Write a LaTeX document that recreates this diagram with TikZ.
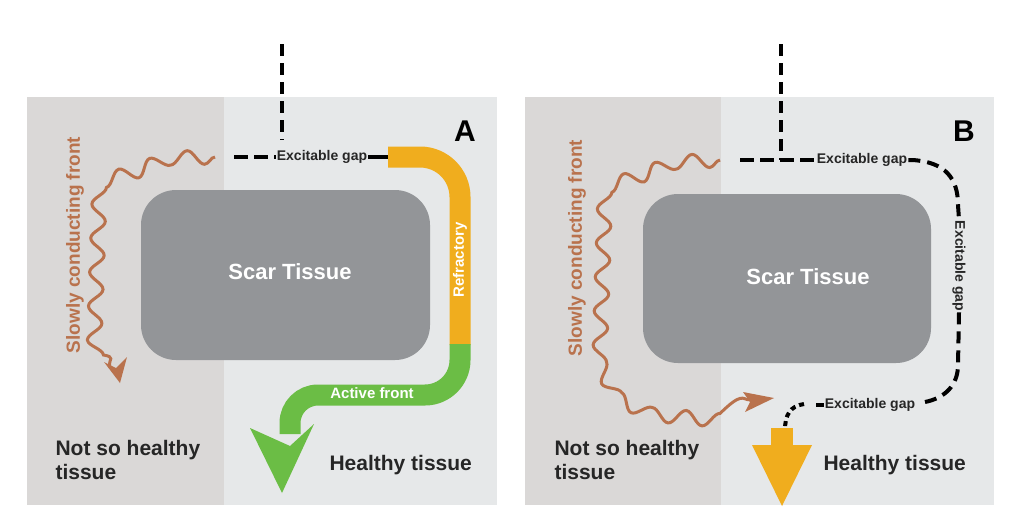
\documentclass[tikz,border=0pt]{standalone}
\usepackage{fontspec}
\setmainfont{Liberation Sans}
\usetikzlibrary{decorations.pathmorphing,arrows.meta}
\definecolor{bgdark}{HTML}{DAD8D7}
\definecolor{bglight}{HTML}{E6E8E9}
\definecolor{scar}{HTML}{939598}
\definecolor{brn}{HTML}{B9724D}
\definecolor{org}{HTML}{F0AD1E}
\definecolor{grn}{HTML}{6BBD45}
\begin{document}
\begin{tikzpicture}[x=1pt,y=-1pt,
  lbl/.style={font=\bfseries\fontsize{21}{24}\selectfont, text=black!85, align=left},
  gap/.style={font=\bfseries\fontsize{14}{16}\selectfont, text=black!85, inner sep=1pt},
  dsh/.style={line width=4pt, dash pattern=on 12pt off 7pt},
  wav/.style={brn, line width=3pt, decorate, decoration={snake, amplitude=7pt, segment length=34pt}},
  scarbox/.style={fill=scar, rounded corners=35pt},
  band/.style={line width=21pt}]
\useasboundingbox (0,0) rectangle (1024,531);
% ---------- Panel A
\fill[bglight] (27,97) rectangle (497,505);
\fill[bgdark] (27,97) rectangle (224,505);
\fill[scarbox] (141,190) rectangle (430,360);
\node[font=\bfseries\fontsize{22}{26}\selectfont, text=white] (scA) at (290,272) {Scar Tissue};
\node[font=\bfseries\fontsize{30}{34}\selectfont] (lA) at (465,131) {A};
\coordinate (tA) at (282,44);
\coordinate (jA) at (282,140);
\draw[dsh] (tA) -- (jA);
\node[gap] (gA) at (322,157) {Excitable gap};
\coordinate (hA) at (234,157);
\draw[line width=4pt, dash pattern=on 14pt off 6pt] (hA) -- (gA.west);
\draw[line width=4pt] (gA.east) -- (390,157);
\draw[org, band] (388,157) -- (420,157) arc[start angle=-90, end angle=0, radius=40] -- (460,345);
\draw[grn, band] (460,344) -- (460,360) arc[start angle=0, end angle=90, radius=35] -- (318,395) arc[start angle=270, end angle=180, radius=28] -- (290,434);
\fill[grn] (250,428) -- (282,493) -- (314,424) -- (290,446) -- cycle;
\node[font=\bfseries\fontsize{15}{17}\selectfont, text=white, rotate=90] (rf) at (460,260) {Refractory};
\node[font=\bfseries\fontsize{15}{17}\selectfont, text=white] (af) at (372,393) {Active front};
\draw[wav] (215,157) -- (175,158) -- (150,168) -- (110,180) -- (105,330) -- (110,368);
\fill[brn] (104,362) -- (120,383) -- (127,357) -- (116,368) -- cycle;
\node[font=\bfseries\fontsize{19}{22}\selectfont, text=brn, rotate=90] (sA) at (75,245) {Slowly conducting front};
\node[lbl, anchor=west] (nA) at (52,460) {Not so healthy\\tissue};
\node[lbl, anchor=west] (hlA) at (326,465) {Healthy tissue};
% ---------- Panel B
\fill[bglight] (525,97) rectangle (994,505);
\fill[bgdark] (525,97) rectangle (721,505);
\fill[scarbox] (643,194) rectangle (931,363);
\node[font=\bfseries\fontsize{22}{26}\selectfont, text=white] (scB) at (808,277) {Scar Tissue};
\node[font=\bfseries\fontsize{30}{34}\selectfont] (lB) at (964,131) {B};
\coordinate (tB) at (781,44);
\coordinate (jB) at (781,160);
\draw[dsh] (tB) -- (jB);
\node[gap] (g1) at (862,160) {Excitable gap};
\coordinate (hB) at (740,160);
\draw[line width=4pt, dash pattern=on 14pt off 6pt] (hB) -- (g1.west);
\node[gap, rotate=-90] (g2) at (959,266) {Excitable gap};
\node[gap] (g3) at (870,405) {Excitable gap};
\draw[dsh] (g1.east) -- ++(4,0) .. controls (945,162) and (958,178) .. (958,205) -- (g2.west);
\draw[dsh] (g2.east) -- (958,365) .. controls (958,385) and (945,398) .. (925,402);
\draw[line width=4pt] (g3.west) -- ++(-8,0);
\draw[dsh, dash pattern=on 5pt off 4pt] (804,404) .. controls (790,406) and (785,415) .. (785,430);
\fill[org] (771,428) rectangle (793,450);
\fill[org] (752,445) -- (782,506) -- (812,445) -- cycle;
\draw[wav] (720,160) -- (680,162) -- (655,172) -- (615,185) -- (610,345) -- (625,375) -- (660,392) -- (752,400);
\fill[brn] (743,392) -- (774,398) -- (745,412) -- (750,402) -- cycle;
\node[font=\bfseries\fontsize{19}{22}\selectfont, text=brn, rotate=90] (sB) at (577,248) {Slowly conducting front};
\node[lbl, anchor=west] (nB) at (551,460) {Not so healthy\\tissue};
\node[lbl, anchor=west] (hlB) at (820,465) {Healthy tissue};
\end{tikzpicture}
\end{document}
